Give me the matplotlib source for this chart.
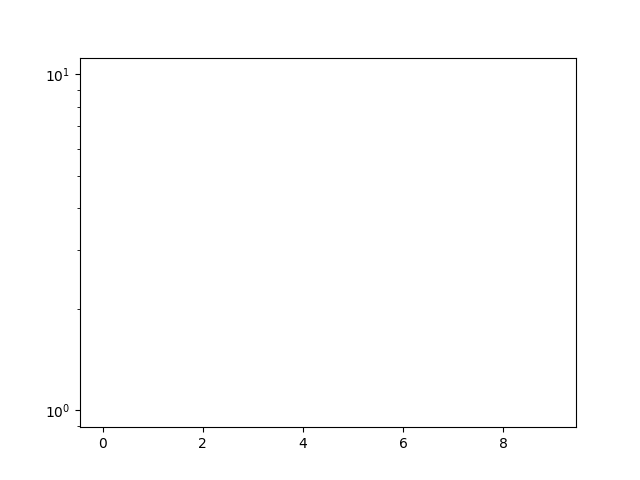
import matplotlib
matplotlib.use('Agg')
import matplotlib.pyplot as plt

# Data range implied by the autoscaled axes (nothing visible is drawn)
x_values = [0, 1, 2, 3, 4, 5, 6, 7, 8, 9]
y_values = [1, 2, 3, 4, 5, 6, 7, 8, 9, 10]

fig, ax = plt.subplots(figsize=(6.4, 4.8), dpi=100)
ax.plot(x_values, y_values, alpha=0)
ax.set_yscale('log')

fig.savefig('out.png')
